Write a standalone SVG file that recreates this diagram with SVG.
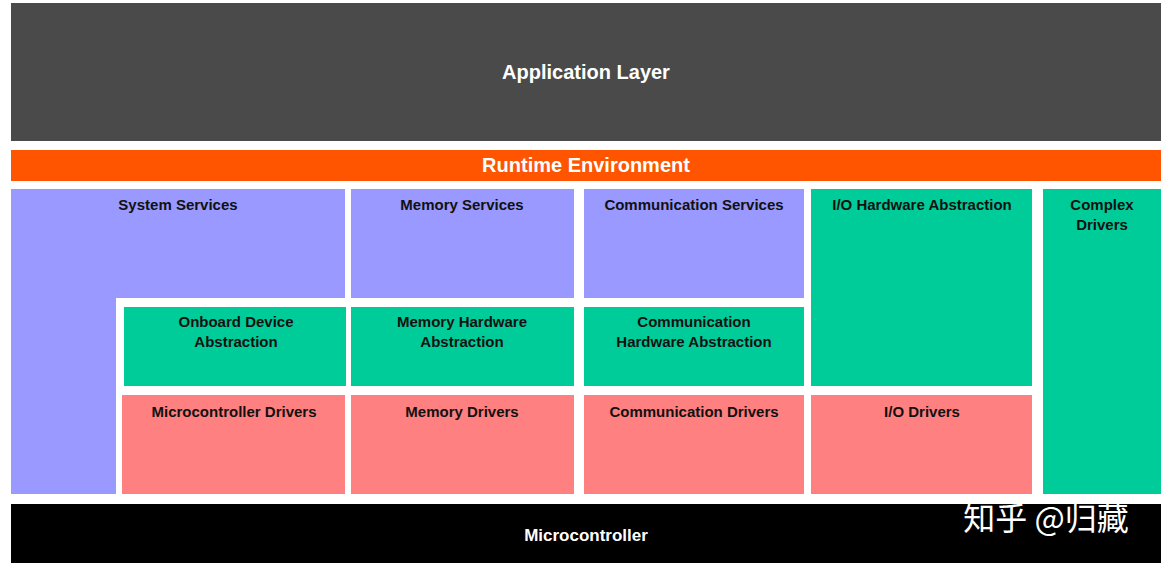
<svg xmlns="http://www.w3.org/2000/svg" width="1170" height="569" viewBox="0 0 1170 569">
<style>
text{font-family:"Liberation Sans",Arial,sans-serif;font-weight:bold;text-anchor:middle}
.s{font-size:15px;fill:#111}
.p{fill:#9999ff}.g{fill:#00cc99}.r{fill:#ff8080}
</style>
<rect width="1170" height="569" fill="#fff"/>
<g id="app"><rect x="11" y="3" width="1150" height="138" fill="#4a4a4a"/><text x="586" y="79" font-size="20" fill="#fff">Application Layer</text></g>
<g id="rte"><rect x="11" y="150" width="1150" height="31" fill="#ff5500"/><text x="586" y="172" font-size="20" fill="#fff">Runtime Environment</text></g>
<g id="sys"><path class="p" d="M11 189H345V298H116V494H11Z"/><text class="s" x="178" y="210">System Services</text></g>
<g id="memsvc"><rect class="p" x="351" y="189" width="223" height="109"/><text class="s" x="462" y="210">Memory Services</text></g>
<g id="comsvc"><rect class="p" x="584" y="189" width="220" height="109"/><text class="s" x="694" y="210">Communication Services</text></g>
<g id="iohw"><rect class="g" x="811" y="189" width="221" height="197"/><text class="s" x="922" y="210">I/O Hardware Abstraction</text></g>
<g id="cdd"><rect class="g" x="1043" y="189" width="118" height="305"/><text class="s" x="1102" y="210">Complex</text><text class="s" x="1102" y="230">Drivers</text></g>
<g id="onb"><rect class="g" x="124" y="307" width="222" height="79"/><text class="s" x="236" y="327">Onboard Device</text><text class="s" x="236" y="347">Abstraction</text></g>
<g id="memhw"><rect class="g" x="351" y="307" width="223" height="79"/><text class="s" x="462" y="327">Memory Hardware</text><text class="s" x="462" y="347">Abstraction</text></g>
<g id="comhw"><rect class="g" x="584" y="307" width="220" height="79"/><text class="s" x="694" y="327">Communication</text><text class="s" x="694" y="347">Hardware Abstraction</text></g>
<g id="mcd"><rect class="r" x="122" y="395" width="223" height="99"/><text class="s" x="234" y="417">Microcontroller Drivers</text></g>
<g id="memd"><rect class="r" x="351" y="395" width="223" height="99"/><text class="s" x="462" y="417">Memory Drivers</text></g>
<g id="comd"><rect class="r" x="584" y="395" width="220" height="99"/><text class="s" x="694" y="417">Communication Drivers</text></g>
<g id="iod"><rect class="r" x="811" y="395" width="221" height="99"/><text class="s" x="922" y="417">I/O Drivers</text></g>
<g id="mcu"><rect x="11" y="504" width="1150" height="59" fill="#000"/><text x="586" y="541" font-size="17" fill="#fff">Microcontroller</text>
<text x="1046" y="530" fill="#fff" style="font-family:'Noto Sans CJK SC',sans-serif;font-size:32px;font-weight:normal">知乎 @归藏</text></g>
<g id="connectors"/>
</svg>
